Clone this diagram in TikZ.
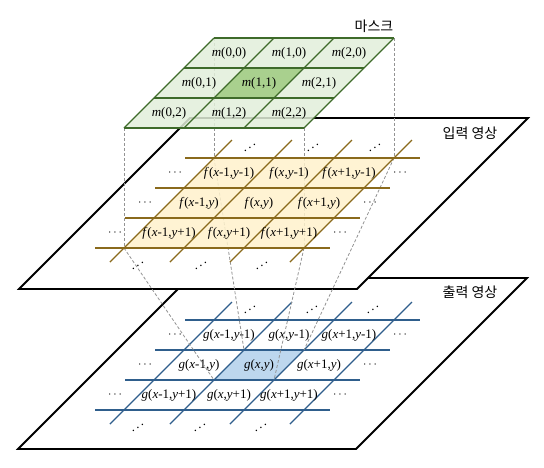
\documentclass[tikz,border=0pt]{standalone}
\usepackage{fontspec}
\setmainfont{Liberation Serif}
\newfontfamily\krfont{Noto Sans CJK KR}
\usetikzlibrary{calc}
\definecolor{maskfill}{HTML}{E2EFDA}
\definecolor{maskmid}{HTML}{A9D08E}
\definecolor{maskline}{HTML}{3E6B2A}
\definecolor{infill}{HTML}{FFF2CC}
\definecolor{inbrown}{HTML}{8A6A1C}
\definecolor{outfill}{HTML}{BDD7EE}
\definecolor{outblue}{HTML}{2F5E8C}
\newcommand\iv[1]{\textit{#1}}
\newcommand\updots{\reflectbox{$\ddots$}}
\begin{document}
\begin{tikzpicture}[x=1pt,y=-1pt,
 plane/.style={draw=black, line width=1.8pt, fill=white, line join=miter},
 lab/.style={font=\fontsize{13}{15}\selectfont, inner sep=0pt},
 krlab/.style={font=\krfont\fontsize{14}{16}\selectfont, inner sep=0pt},
 ingrid/.style={draw=inbrown, line width=1.2pt},
 outgrid/.style={draw=outblue, line width=1.2pt},
 mgrid/.style={draw=maskline, line width=1.2pt},
 guide/.style={draw=gray!85, line width=0.8pt, dash pattern=on 3pt off 2pt},
 dotlab/.style={font=\fontsize{13}{15}\selectfont, inner sep=0pt},
]
\useasboundingbox (0,0) rectangle (544,467);

% ---------- output plane ----------
\coordinate (oplTL) at (189,278);
\coordinate (oplTR) at (527,278);
\coordinate (oplBR) at (356,449);
\coordinate (oplBL) at (18,449);
\draw[plane] (oplBL) -- (oplBR) -- (oplTR) -- (oplTL) -- cycle;
\node[krlab] (outlab) at (470,292) {출력 영상};

\begin{scope}[shift={(214,320)}, x={(60pt,0pt)}, y={(-30pt,-30pt)}]
 \fill[outfill] (1,1) -- (2,1) -- (2,2) -- (1,2) -- cycle;
 \coordinate (oTL) at (1,1);
 \coordinate (oTR) at (2,1);
 \coordinate (oBL) at (1,2);
 \coordinate (oBR) at (2,2);
 \foreach \j in {0,...,3} \draw[outgrid] (-0.483,\j) -- (3.433,\j);
 \foreach \i in {0,...,3} \draw[outgrid] (\i,-0.6) -- (\i,3.47);
 \node[lab] (g00) at (0.5,0.5) {\iv{g}(\iv{x}-1,\iv{y}-1)};
 \node[lab] (g10) at (1.5,0.5) {\iv{g}(\iv{x},\iv{y}-1)};
 \node[lab] (g20) at (2.5,0.5) {\iv{g}(\iv{x}+1,\iv{y}-1)};
 \node[lab] (g01) at (0.5,1.5) {\iv{g}(\iv{x}-1,\iv{y})};
 \node[lab] (g11) at (1.5,1.5) {\iv{g}(\iv{x},\iv{y})};
 \node[lab] (g21) at (2.5,1.5) {\iv{g}(\iv{x}+1,\iv{y})};
 \node[lab] (g02) at (0.5,2.5) {\iv{g}(\iv{x}-1,\iv{y}+1)};
 \node[lab] (g12) at (1.5,2.5) {\iv{g}(\iv{x},\iv{y}+1)};
 \node[lab] (g22) at (2.5,2.5) {\iv{g}(\iv{x}+1,\iv{y}+1)};
 \foreach \r in {0,1,2} {
  \node[dotlab] (gl\r) at (-0.4,\r+0.5) {$\cdots$};
  \node[dotlab] (gr\r) at (3.35,\r+0.5) {$\cdots$};
 }
\end{scope}
\node[dotlab] (gu0) at (250,307) {\updots};
\node[dotlab] (gu1) at (312,307) {\updots};
\node[dotlab] (gu2) at (373,307) {\updots};
\node[dotlab] (gd0) at (138,425) {\updots};
\node[dotlab] (gd1) at (200,425) {\updots};
\node[dotlab] (gd2) at (261,425) {\updots};

% ---------- input plane ----------
\coordinate (iplTL) at (190,118);
\coordinate (iplTR) at (528,118);
\coordinate (iplBR) at (357,289);
\coordinate (iplBL) at (19,289);
\draw[plane] (iplBL) -- (iplBR) -- (iplTR) -- (iplTL) -- cycle;
\node[krlab] (inlab) at (470,133) {입력 영상};

% corners
\coordinate (mTL) at (214,38);
\coordinate (mTR) at (394,38);
\coordinate (mBL) at (124,128);
\coordinate (mBR) at (304,128);
\coordinate (bTL) at (214,158);
\coordinate (bTR) at (394,158);
\coordinate (bBL) at (124,248);
\coordinate (bBR) at (304,248);

% guides
\draw[guide] (bTL) -- (oTL);
\draw[guide] (bTR) -- (oTR);
\draw[guide] (bBL) -- (oBL);
\draw[guide] (bBR) -- (oBR);
\draw[guide] (mTL) -- (bTL);
\draw[guide] (mTR) -- (bTR);
\draw[guide] (mBL) -- (bBL);
\draw[guide] (mBR) -- (bBR);

\begin{scope}[shift={(214,158)}, x={(60pt,0pt)}, y={(-30pt,-30pt)}]
 \fill[infill, fill opacity=0.85] (0,0) -- (3,0) -- (3,3) -- (0,3) -- cycle;
 \foreach \j in {0,...,3} \draw[ingrid] (-0.483,\j) -- (3.433,\j);
 \foreach \i in {0,...,3} \draw[ingrid] (\i,-0.6) -- (\i,3.47);
 \node[lab] (f00) at (0.5,0.5) {\iv{f}(\iv{x}-1,\iv{y}-1)};
 \node[lab] (f10) at (1.5,0.5) {\iv{f}(\iv{x},\iv{y}-1)};
 \node[lab] (f20) at (2.5,0.5) {\iv{f}(\iv{x}+1,\iv{y}-1)};
 \node[lab] (f01) at (0.5,1.5) {\iv{f}(\iv{x}-1,\iv{y})};
 \node[lab] (f11) at (1.5,1.5) {\iv{f}(\iv{x},\iv{y})};
 \node[lab] (f21) at (2.5,1.5) {\iv{f}(\iv{x}+1,\iv{y})};
 \node[lab] (f02) at (0.5,2.5) {\iv{f}(\iv{x}-1,\iv{y}+1)};
 \node[lab] (f12) at (1.5,2.5) {\iv{f}(\iv{x},\iv{y}+1)};
 \node[lab] (f22) at (2.5,2.5) {\iv{f}(\iv{x}+1,\iv{y}+1)};
 \foreach \r in {0,1,2} {
  \node[dotlab] (fl\r) at (-0.4,\r+0.5) {$\cdots$};
  \node[dotlab] (fr\r) at (3.35,\r+0.5) {$\cdots$};
 }
\end{scope}
\node[dotlab] (fu0) at (250,145) {\updots};
\node[dotlab] (fu1) at (313,145) {\updots};
\node[dotlab] (fu2) at (375,145) {\updots};
\node[dotlab] (fd0) at (138,263) {\updots};
\node[dotlab] (fd1) at (201,263) {\updots};
\node[dotlab] (fd2) at (262,263) {\updots};

% ---------- mask ----------
\begin{scope}[shift={(214,38)}, x={(60pt,0pt)}, y={(-30pt,-30pt)}]
 \fill[maskfill, fill opacity=0.85] (0,0) -- (3,0) -- (3,3) -- (0,3) -- cycle;
 \fill[maskmid] (1,1) -- (2,1) -- (2,2) -- (1,2) -- cycle;
 \foreach \j in {0,...,3} \draw[mgrid] (0,\j) -- (3,\j);
 \foreach \i in {0,...,3} \draw[mgrid] (\i,0) -- (\i,3);
 \node[lab] (m00) at (0.5,0.5) {\iv{m}(0,0)};
 \node[lab] (m10) at (1.5,0.5) {\iv{m}(1,0)};
 \node[lab] (m20) at (2.5,0.5) {\iv{m}(2,0)};
 \node[lab] (m01) at (0.5,1.5) {\iv{m}(0,1)};
 \node[lab] (m11) at (1.5,1.5) {\iv{m}(1,1)};
 \node[lab] (m21) at (2.5,1.5) {\iv{m}(2,1)};
 \node[lab] (m02) at (0.5,2.5) {\iv{m}(0,2)};
 \node[lab] (m12) at (1.5,2.5) {\iv{m}(1,2)};
 \node[lab] (m22) at (2.5,2.5) {\iv{m}(2,2)};
\end{scope}
\node[krlab] (masklab) at (374,26) {마스크};
\end{tikzpicture}
\end{document}
